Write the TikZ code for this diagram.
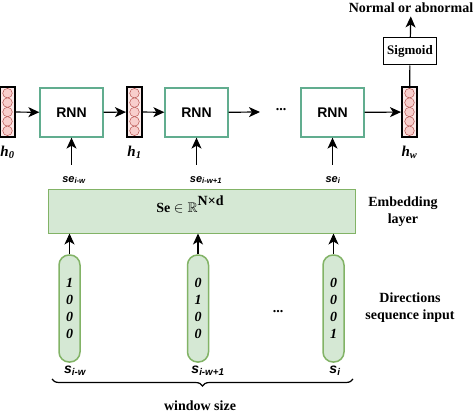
\documentclass[tikz,border=0pt]{standalone}
\usepackage{fontspec}
\usepackage{amssymb}
\setmainfont{Liberation Serif}
\newfontfamily\rnnfont{Liberation Sans}
\usetikzlibrary{decorations.pathreplacing,arrows.meta}

\newlength{\du}
\setlength{\du}{1pt}

\definecolor{rnnline}{rgb}{0.380000, 0.680000, 0.560000}
\definecolor{embfill}{rgb}{0.835294, 0.909804, 0.831373}
\definecolor{embline}{rgb}{0.509804, 0.701961, 0.400000}
\definecolor{cellfill}{rgb}{0.972549, 0.807843, 0.800000}
\definecolor{cellline}{rgb}{0.721569, 0.329412, 0.313725}

\tikzset{
  rnnbox/.style={draw=rnnline, fill=white, line width=1.3\du, minimum width=63\du, minimum height=49\du,
    font=\rnnfont\bfseries\fontsize{14}{16}\selectfont},
  hbox/.style={draw=black, fill=cellfill!45, line width=2\du, minimum width=15\du, minimum height=50\du, inner sep=0pt},
  pillbox/.style={draw=embline, fill=embfill, line width=1.5\du, rounded corners=10\du, minimum width=21\du,
    minimum height=107\du, inner sep=0pt, align=center, font=\bfseries\itshape\fontsize{14}{17}\selectfont},
  sigbox/.style={draw=black, fill=white, line width=1\du, minimum width=50\du, minimum height=27\du,
    font=\bfseries\fontsize{13}{15}\selectfont},
  embbox/.style={draw=embline, fill=embfill, line width=1\du, minimum width=307\du, minimum height=44\du},
  flow/.style={-{Stealth[length=11pt,width=10pt,inset=3pt]}, line width=1.2\du},
  wire/.style={line width=1.2\du},
  caption/.style={align=center, font=\bfseries\fontsize{14}{17}\selectfont},
  hlabel/.style={font=\bfseries\itshape\fontsize{15}{17}\selectfont},
  selabel/.style={font=\rnnfont\bfseries\itshape\fontsize{11}{13}\selectfont},
  slabel/.style={font=\rnnfont\bfseries\itshape\fontsize{14}{16}\selectfont},
  dots/.style={font=\bfseries\fontsize{14}{16}\selectfont}
}

% hidden state vector: name, x, label
\newcommand{\hstate}[3]{%
  \node[hbox] (#1) at (#2\du,112\du) {};
  \foreach \k in {-2,...,2}
    \fill[cellfill, draw=cellline, line width=0.5\du] (#2\du,112\du+\k*9.4\du) circle (4.8\du);
  \node[hlabel] (#1lbl) at (#2\du,152\du) {#3};
}

\begin{document}
\begin{tikzpicture}
\pgftransformxscale{1.000000}
\pgftransformyscale{-1.000000}
\useasboundingbox (0\du,0\du) rectangle (474\du,417\du);

% recurrent chain
\hstate{h0}{7.5}{h\textsubscript{0}}
\node[rnnbox] (rnn1) at (71.5\du,112.5\du) {RNN};
\hstate{h1}{134.5}{h\textsubscript{1}}
\node[rnnbox] (rnn2) at (196.5\du,112.5\du) {RNN};
\coordinate (gap) at (260\du,112\du);
\node[dots] (dotsa) at (281\du,110\du) {...};
\node[rnnbox] (rnn3) at (332.5\du,112.5\du) {RNN};
\hstate{hw}{409.5}{h\textsubscript{w}}

\draw[flow] (h0) -- (rnn1);
\draw[flow] (rnn1) -- (h1);
\draw[flow] (h1) -- (rnn2);
\draw[flow] (rnn2) -- (gap);
\draw[flow] (rnn3) -- (hw);

% output
\node[sigbox] (sig) at (410\du,51.5\du) {Sigmoid};
\node[caption] (out) at (411\du,8\du) {Normal or abnormal};
\draw[wire] (hw) -- (sig);
\draw[flow] (sig) -- (out);

% embedded inputs
\coordinate (in1) at (71.5\du,165\du);
\coordinate (in2) at (196.5\du,165\du);
\coordinate (in3) at (332.5\du,165\du);
\draw[flow] (in1) -- (rnn1);
\draw[flow] (in2) -- (rnn2);
\draw[flow] (in3) -- (rnn3);
\node[selabel] (se1) at (74\du,180\du) {se\textsubscript{i-w}};
\node[selabel] (se2) at (206\du,180\du) {se\textsubscript{i-w+1}};
\node[selabel] (se3) at (333\du,180\du) {se\textsubscript{i}};

% embedding layer
\node[embbox] (emb) at (201.5\du,211\du) {};
\node[font=\bfseries\fontsize{14}{16}\selectfont] (embtxt) at (190\du,204\du)
  {Se $\in\mathbb{R}$\raisebox{7\du}{N×d}};
\node[caption] (embcap) at (403\du,212\du) {Embedding\\layer};

% one-hot direction inputs
\node[pillbox] (s1) at (69.5\du,308.5\du) {1\\0\\0\\0};
\node[pillbox] (s2) at (198\du,308.5\du) {0\\1\\0\\0};
\node[dots] (dotsb) at (278\du,312\du) {...};
\node[pillbox] (s3) at (333.5\du,308.5\du) {0\\0\\0\\1};
\draw[flow] (s1) -- (s1|-emb.south);
\draw[flow] (s2) -- (s2|-emb.south);
\draw[flow] (s3) -- (s3|-emb.south);
\node[caption] (dircap) at (410\du,308\du) {Directions\\sequence input};

\node[slabel] (sl1) at (75\du,371\du) {s\textsubscript{i-w}};
\node[slabel] (sl2) at (208\du,371\du) {s\textsubscript{i-w+1}};
\node[slabel] (sl3) at (335\du,371\du) {s\textsubscript{i}};

% window
\draw[wire, decorate, decoration={brace, mirror, amplitude=7\du}] (52\du,379\du) -- (353\du,379\du);
\node[caption] (win) at (200\du,406\du) {window size};
\end{tikzpicture}
\end{document}
